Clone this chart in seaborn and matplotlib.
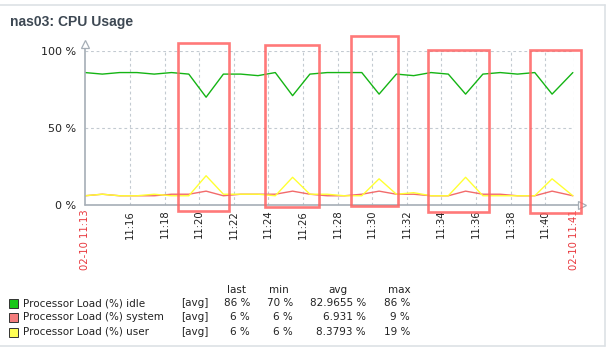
import pandas as pd
import numpy as np
import matplotlib.pyplot as plt
import matplotlib.patches as mpatches
import seaborn as sns

# --- Styling ---
sns.set_theme(style="white")
plt.rcParams['font.family'] = ['DejaVu Sans']

W, H = 606, 354

# --- Data (one sample per minute, values in %) ---
times = ["11:13:24", "11:14:24", "11:15:24", "11:16:24", "11:17:24", "11:18:24",
         "11:19:24", "11:20:24", "11:21:24", "11:22:24", "11:23:24", "11:24:24",
         "11:25:24", "11:26:24", "11:27:24", "11:28:24", "11:29:24", "11:30:24",
         "11:31:24", "11:32:24", "11:33:24", "11:34:24", "11:35:24", "11:36:24",
         "11:37:24", "11:38:24", "11:39:24", "11:40:24", "11:41:36"]
idle = [86, 85, 86, 86, 85, 86, 85, 70, 85, 85, 84, 86, 71, 85, 86,
        86, 86, 72, 85, 84, 86, 85, 72, 85, 86, 85, 86, 72, 86]
system = [6, 7, 6, 6, 6, 7, 7, 9, 6, 7, 7, 7, 9, 7, 6,
          6, 7, 9, 7, 7, 6, 6, 9, 7, 7, 6, 6, 9, 6]
user = [6, 7, 6, 6, 7, 6, 6, 19, 7, 7, 7, 6, 18, 7, 7,
        6, 6, 17, 7, 8, 6, 6, 18, 6, 6, 6, 6, 17, 6]

series_names = ["Processor Load (%) idle", "Processor Load (%) system", "Processor Load (%) user"]
line_colors = ["#14b414", "#f26b6b", "#ffff33"]
box_colors = ["#19c719", "#f47d7d", "#ffff55"]
stats_last = ["86 %", "6 %", "6 %"]
stats_min = ["70 %", "6 %", "6 %"]
stats_avg = ["82.9655 %", "6.931 %", "8.3793 %"]
stats_max = ["86 %", "9 %", "19 %"]

x_ticks = ["11:16", "11:18", "11:20", "11:22", "11:24", "11:26", "11:28",
           "11:30", "11:32", "11:34", "11:36", "11:38", "11:40"]
x_start, x_end = "11:13:24", "11:41:40"
start_label, end_label = "02-10 11:13", "02-10 11:41"
y_ticks = [0, 50, 100]

# highlight boxes drawn on the screenshot (time from, time to, % low, % high)
highlights = [("11:18:47", "11:21:44", -4, 105),
              ("11:23:49", "11:26:56", -1, 104),
              ("11:28:46", "11:31:31", -0.5, 110),
              ("11:33:15", "11:36:46", -4.5, 100.5),
              ("11:39:07", "11:42:04", -5, 100.5)]


def to_min(s):
    p = [int(v) for v in s.split(":")]
    return (p[0] - 11) * 60 + p[1] + (p[2] / 60.0 if len(p) > 2 else 0)


t = [to_min(s) for s in times]
df = pd.DataFrame({
    "t": t * 3,
    "value": idle + system + user,
    "series": sum([[n] * len(t) for n in series_names], []),
})

fig = plt.figure(figsize=(W / 100, H / 100), dpi=100)
fig.patch.set_facecolor("white")

# frame of the widget
fig.add_artist(plt.Line2D([0, 605 / W], [1 - 5 / H, 1 - 5 / H], color="#dde1e5", lw=1.2))
fig.add_artist(plt.Line2D([605 / W, 605 / W], [1 - 5 / H, 1 - 346 / H], color="#dde1e5", lw=1.2))
fig.add_artist(plt.Line2D([0, 605 / W], [1 - 346 / H, 1 - 346 / H], color="#dde1e5", lw=1.2))

fig.text(10 / W, 1 - 22 / H, "nas03: CPU Usage", fontsize=10, fontweight="bold",
         color="#3d4853", va="center", ha="left", family=["Liberation Sans", "DejaVu Sans"])

ax = fig.add_axes([85 / W, 1 - 205 / H, 489 / W, 154 / H])
ax.set_facecolor("white")
x0, x1 = to_min(x_start), to_min(x_end)
ax.set_xlim(x0, x1)
ax.set_ylim(0, 100)

# grid
grid_kw = dict(color="#c3cad1", lw=0.8, ls=(0, (2.5, 2.5)), zorder=0)
for lbl in x_ticks + [x_end]:
    ax.axvline(to_min(lbl), **grid_kw)
for v in y_ticks[1:]:
    ax.axhline(v, **grid_kw)

sns.lineplot(data=df, x="t", y="value", hue="series", palette=dict(zip(series_names, line_colors)),
             linewidth=1.0, legend=False, ax=ax, zorder=3)

# axes with arrows
for sp in ax.spines.values():
    sp.set_visible(False)
axis_c = "#a6aeb6"
ax.plot([x0, x0], [0, 104.5], color=axis_c, lw=1.2, clip_on=False, zorder=4)
ax.plot([x0, x1 + 0.4], [0, 0], color=axis_c, lw=1.2, clip_on=False, zorder=4)
ax.plot([x0], [104.5], marker="^", ms=6, mfc="white", mec=axis_c, mew=0.9, clip_on=False, zorder=5)
ax.plot([x1 + 0.45], [0], marker=">", ms=6, mfc="white", mec=axis_c, mew=0.9, clip_on=False, zorder=5)

ax.set_yticks(y_ticks)
ax.set_yticklabels([f"{v} %" for v in y_ticks], fontsize=8, color="#222222")
ax.set_xticks([x0] + [to_min(v) for v in x_ticks] + [x1])
ax.set_xticklabels([start_label] + [f"11:{v[3:]}" for v in x_ticks] + [end_label],
                   rotation=90, fontsize=7.2, va="top", ha="center")
for lbl in ax.get_xticklabels():
    lbl.set_color("#222222")
ax.get_xticklabels()[0].set_color("#e8383d")
ax.get_xticklabels()[-1].set_color("#e8383d")
ax.tick_params(axis="x", length=0, pad=3.5)
ax.tick_params(axis="y", length=0, pad=6.5)
ax.set_xlabel("")
ax.set_ylabel("")

# red highlight boxes
for a, b, lo, hi in highlights:
    ax.add_patch(mpatches.Rectangle((to_min(a), lo), to_min(b) - to_min(a), hi - lo, fill=False,
                                    ec="#ff6262", lw=1.9, alpha=0.85, clip_on=False, zorder=6))

# legend table
fs = 7.5
txt_c = "#222222"
fig.text(237 / W, 1 - 290 / H, "last", fontsize=fs, ha="center", va="center", color=txt_c)
fig.text(279 / W, 1 - 290 / H, "min", fontsize=fs, ha="center", va="center", color=txt_c)
fig.text(338 / W, 1 - 290 / H, "avg", fontsize=fs, ha="center", va="center", color=txt_c)
fig.text(399 / W, 1 - 290 / H, "max", fontsize=fs, ha="center", va="center", color=txt_c)
for i, name in enumerate(series_names):
    yy = 1 - (303 + 14.5 * i) / H
    fig.add_artist(mpatches.Rectangle((9 / W, yy - 4.5 / H), 9 / W, 9 / H, fc=box_colors[i],
                                      ec="#333333", lw=0.7))
    fig.text(23 / W, yy, name, fontsize=fs, ha="left", va="center", color=txt_c)
    fig.text(181 / W, yy, "[avg]", fontsize=fs, ha="left", va="center", color=txt_c)
    fig.text(250 / W, yy, stats_last[i], fontsize=fs, ha="right", va="center", color=txt_c)
    fig.text(293 / W, yy, stats_min[i], fontsize=fs, ha="right", va="center", color=txt_c)
    fig.text(366 / W, yy, stats_avg[i], fontsize=fs, ha="right", va="center", color=txt_c)
    fig.text(410 / W, yy, stats_max[i], fontsize=fs, ha="right", va="center", color=txt_c)

fig.savefig("out.png", dpi=100, facecolor="white")
